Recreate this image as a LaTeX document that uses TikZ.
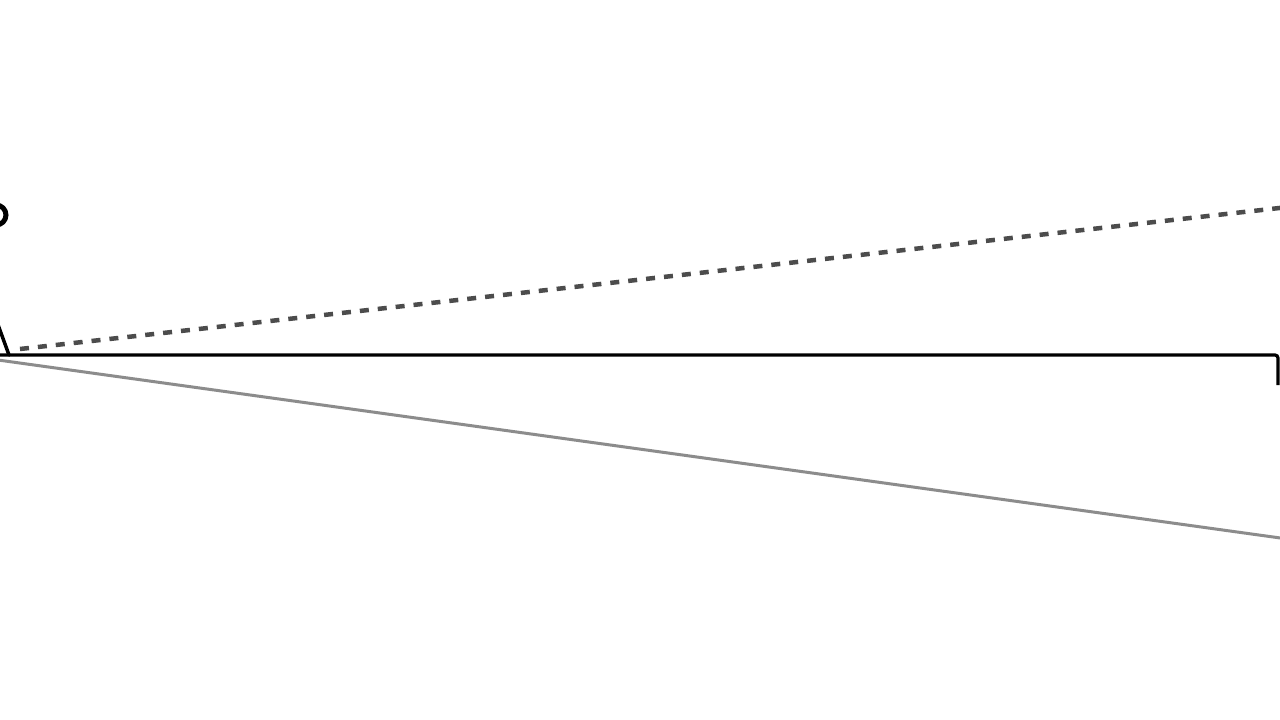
\documentclass[tikz,border=0pt]{standalone}
\begin{document}
\begin{tikzpicture}[x=1pt,y=-1pt,
  figline/.style={line width=3.5pt,black,line cap=round,line join=round},
  headline/.style={line width=5pt,black},
  ground/.style={line width=3.2pt,black,rounded corners=3pt},
  sightline/.style={line width=4.5pt,black!70,dash pattern=on 9pt off 9pt},
  lowline/.style={line width=3pt,black!45}]
\useasboundingbox (0,0) rectangle (1280,720);
\clip (0,0) rectangle (1280,720);
\fill[white] (0,0) rectangle (1280,720);
% coordinates
\coordinate (head) at (-4,215);
\coordinate (neck) at (-5,226);
\coordinate (hip) at (-3,322);
\coordinate (lfoot) at (-14,355);
\coordinate (rfoot) at (9,355);
\coordinate (gstart) at (-5,355);
\coordinate (gcorner) at (1278,355);
\coordinate (gend) at (1278,385);
\coordinate (dstart) at (20,349);
\coordinate (dend) at (1284,207.5);
\coordinate (lstart) at (-2,360);
\coordinate (lend) at (1284,538.5);
% stick figure
\draw[headline] (head) circle (10);
\draw[figline] (neck) -- (-5,322);
\draw[figline] (lfoot) -- (hip) -- (rfoot);
% ground line
\draw[ground] (gstart) -- (gcorner) -- (gend);
% dotted sight line
\draw[sightline] (dstart) -- (dend);
% grey line
\draw[lowline] (lstart) -- (lend);
\end{tikzpicture}
\end{document}
